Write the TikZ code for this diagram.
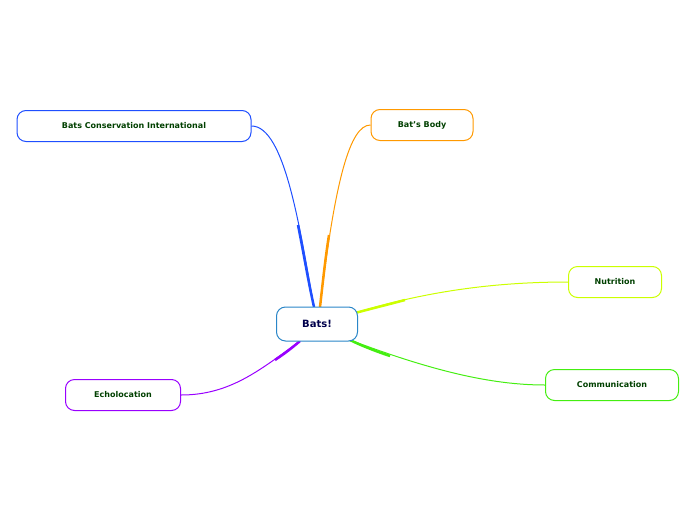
\documentclass[tikz,border=0pt]{standalone}
\usepackage{fontspec}
\setmainfont{DejaVu Sans}
\begin{document}
\begin{tikzpicture}[x=1pt,y=-1pt,
  topic/.style={draw, line width=1pt, rounded corners=9pt, fill=white, minimum height=31pt, font=\bfseries\fontsize{8}{9}\selectfont, text=green!25!black, inner xsep=8pt},
  link/.style={line width=1pt}]
\useasboundingbox (0,0) rectangle (696,520);
\definecolor{cb}{HTML}{1F4FFF}\definecolor{co}{HTML}{FF9900}
\definecolor{cy}{HTML}{CCFF00}\definecolor{cg}{HTML}{44EE11}
\definecolor{cp}{HTML}{9900FF}\definecolor{cc}{HTML}{2A86C8}
\coordinate (sb) at (314,307); \coordinate (so) at (320,307);
\coordinate (sy) at (355,313); \coordinate (sg) at (350,340);
\coordinate (sp) at (300,341);
\node[topic, draw=cb, minimum width=234pt] (bci) at (134,126) {Bats Conservation International};
\node[topic, draw=co, minimum width=102pt] (body) at (422,125) {Bat's Body};
\node[topic, draw=cy, minimum width=93pt] (nut) at (615,282) {Nutrition};
\node[topic, draw=cg, minimum width=133pt] (com) at (612,385) {Communication};
\node[topic, draw=cp, minimum width=115pt] (echo) at (123,395) {Echolocation};
\draw[link, cb] (sb) .. controls (300,230) and (285,126) .. (bci.east);
\draw[link, cb, line width=2.5pt] (sb) .. controls (308,280) and (304,255) .. (298,225);
\draw[link, co] (so) .. controls (335,180) and (350,125) .. (body.west);
\draw[link, co, line width=2.5pt] (so) .. controls (322,290) and (325,260) .. (329,235);
\draw[link, cy] (sy) .. controls (430,290) and (500,282) .. (nut.west);
\draw[link, cy, line width=2.5pt] (sy) .. controls (370,309) and (390,304) .. (405,300);
\draw[link, cg] (sg) .. controls (430,370) and (490,385) .. (com.west);
\draw[link, cg, line width=2.5pt] (sg) .. controls (360,345) and (375,351) .. (390,356);
\draw[link, cp] (sp) .. controls (260,370) and (230,395) .. (echo.east);
\draw[link, cp, line width=2.5pt] (sp) .. controls (292,348) and (284,354) .. (275,360);
\node[draw=cc, line width=1pt, rounded corners=9pt, fill=white, minimum width=81pt, minimum height=34pt, font=\bfseries\fontsize{10}{12}\selectfont, text=blue!30!black] (bats) at (317,324) {Bats!};
\end{tikzpicture}
\end{document}
